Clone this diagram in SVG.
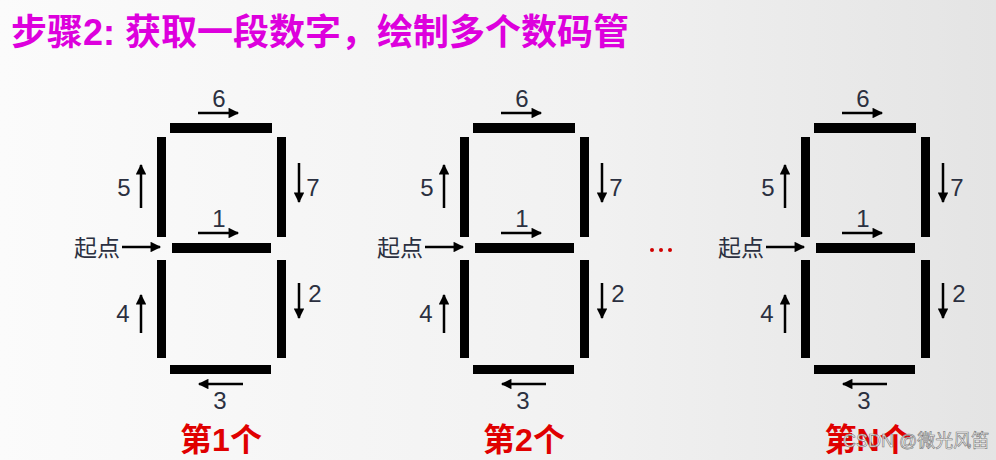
<svg xmlns="http://www.w3.org/2000/svg" width="996" height="460" viewBox="0 0 996 460">
<defs>
<linearGradient id="bg" x1="0" y1="0" x2="1" y2="0">
<stop offset="0" stop-color="#fbfbfb"/>
<stop offset="0.6" stop-color="#f1f1f1"/>
<stop offset="1" stop-color="#e4e4e4"/>
</linearGradient>
<marker id="ah" viewBox="0 0 10 10" refX="9" refY="5" markerWidth="4.6" markerHeight="4.2" markerUnits="strokeWidth" orient="auto">
<path d="M0,0 L10,5 L0,10 z" fill="#000"/>
</marker>
<g id="digit">
<rect class="seg" x="170" y="123" width="102" height="10"/>
<rect class="seg" x="157" y="137" width="9" height="100"/>
<rect class="seg" x="277" y="137" width="9" height="100"/>
<rect class="seg" x="172" y="243" width="99" height="10"/>
<rect class="seg" x="157" y="260" width="9" height="98"/>
<rect class="seg" x="277" y="260" width="9" height="98"/>
<rect class="seg" x="170" y="365" width="101" height="9"/>
</g>
<g id="arrows">
<line class="arr" x1="198" y1="113" x2="238" y2="113"/>
<line class="arr" x1="141" y1="208" x2="141" y2="165"/>
<line class="arr" x1="299" y1="163" x2="299" y2="202"/>
<line class="arr" x1="198" y1="233" x2="238" y2="233"/>
<line class="arr" x1="122" y1="247" x2="160" y2="247"/>
<line class="arr" x1="141" y1="333" x2="141" y2="295"/>
<line class="arr" x1="299" y1="283" x2="299" y2="318"/>
<line class="arr" x1="243" y1="384" x2="199" y2="384"/>
</g>
<g id="labels">
<text class="num" x="219" y="107">6</text>
<text class="num" x="124" y="196">5</text>
<text class="num" x="313" y="196">7</text>
<text class="num" x="219" y="227">1</text>
<text class="num" x="123" y="322">4</text>
<text class="num" x="315" y="302">2</text>
<text class="num" x="220" y="409">3</text>
<text class="start" x="97" y="256">起点</text>
</g>
</defs>
<style>
.seg{fill:#000}
.arr{stroke:#000;stroke-width:2.5;fill:none;marker-end:url(#ah)}
.num{font-family:"Liberation Sans",Arial,sans-serif;font-size:24px;fill:#2b3040;text-anchor:middle}
.start{font-family:"Noto Sans CJK SC","Liberation Sans",sans-serif;font-size:23px;fill:#2b3040;text-anchor:middle}
.cap{font-family:"Liberation Sans","Noto Sans CJK SC",sans-serif;font-size:32px;font-weight:bold;fill:#e00000;text-anchor:middle}
.title{font-family:"Liberation Sans","Noto Sans CJK SC",sans-serif;font-size:36px;font-weight:bold;fill:#dd00dd}
</style>
<rect x="0" y="0" width="996" height="460" fill="url(#bg)"/>
<text class="title" x="11" y="45">步骤2: 获取一段数字，绘制多个数码管</text>
<g id="digit1">
<use href="#digit"/>
<use href="#labels"/>
<text class="cap" x="221" y="451">第1个</text>
</g>
<g id="digit2" transform="translate(303,0)">
<use href="#digit"/>
<use href="#labels"/>
<text class="cap" x="221" y="451">第2个</text>
</g>
<g id="digit3" transform="translate(644,0)">
<use href="#digit"/>
<use href="#labels"/>
<text class="cap" x="224" y="451">第N个</text>
</g>
<g id="connectors">
<use href="#arrows"/>
<use href="#arrows" transform="translate(303,0)"/>
<use href="#arrows" transform="translate(644,0)"/>
</g>
<g id="ellipsis" fill="#d00000">
<circle cx="652" cy="250" r="2"/>
<circle cx="661" cy="250" r="2"/>
<circle cx="670" cy="250" r="2"/>
</g>
<text x="843" y="447" font-family="'Liberation Sans','Noto Sans CJK SC',sans-serif" font-size="18" fill="#ffffff" fill-opacity="0.85" stroke="#777" stroke-width="0.6">CSDN @微光风笛</text>
</svg>
